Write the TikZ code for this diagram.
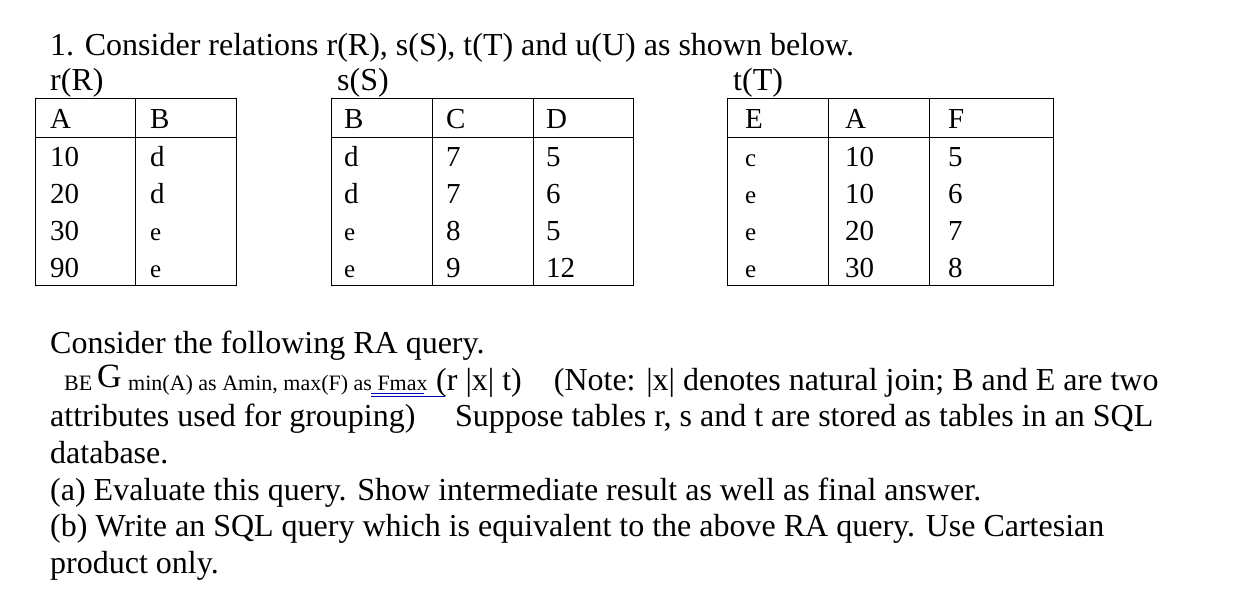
\documentclass[tikz,border=0pt]{standalone}
\usepackage{fontspec}
\setmainfont{Liberation Serif}
\begin{document}
\begin{tikzpicture}[x=1pt,y=-1pt,
  t/.style={anchor=base west,inner sep=0pt,font=\fontsize{32}{38}\selectfont},
  c/.style={anchor=base west,inner sep=0pt,font=\fontsize{29}{34}\selectfont},
  ce/.style={anchor=base west,inner sep=0pt,font=\fontsize{25}{30}\selectfont},
  sm/.style={anchor=base west,inner sep=0pt,font=\fontsize{22}{26}\selectfont},
  grid/.style={line width=0.8pt}]
\useasboundingbox (0,0) rectangle (1243,606);
\node[t] (l1) at (50,55) {1. Consider relations r(R), s(S), t(T) and u(U) as shown below.};
\node[t] (hr) at (50,90) {r(R)};
\node[t] (hs) at (337,90) {s(S)};
\node[t] (ht) at (733,90) {t(T)};
% tables
\foreach \xa/\xb/\xs in {35/236/{135}, 331/633/{432,533}, 727/1053/{828,929}}{
  \draw[grid] (\xa,98) rectangle (\xb,285);
  \draw[grid] (\xa,137) -- (\xb,137);
  \foreach \xx in \xs {\draw[grid] (\xx,98) -- (\xx,285);}
}
% r
\foreach \y/\a in {128/A,166/10,203/20,240/30,277/90}{\node[c] at (50,\y) {\a};}
\foreach \y/\b/\st in {128/B/c,166/d/c,203/d/c,240/e/ce,277/e/ce}{\node[\st] at (150,\y) {\b};}
% s
\foreach \y/\a/\st in {128/B/c,166/d/c,203/d/c,240/e/ce,277/e/ce}{\node[\st] at (344,\y) {\a};}
\foreach \y/\b/\cc in {128/C/D,166/7/5,203/7/6,240/8/5,277/9/12}{
  \node[c] at (446,\y) {\b}; \node[c] at (546,\y) {\cc};}
% t
\foreach \y/\a/\st in {128/E/c,166/c/ce,203/e/ce,240/e/ce,277/e/ce}{\node[\st] at (745,\y) {\a};}
\foreach \y/\b/\cc in {128/A/F,166/10/5,203/10/6,240/20/7,277/30/8}{
  \node[c] at (845,\y) {\b}; \node[c] at (948,\y) {\cc};}
\node[t] (q0) at (50,353) {Consider the following RA query.};
\node[sm] (be) at (64,390) {BE};
\node[t,font=\fontsize{34}{40}\selectfont] (g) at (97,387) {G};
\node[sm] (agg) at (128,390) {min(A) as Amin, max(F) as Fmax};
\draw[blue!70!black,line width=0.6pt] (371,393) -- (424,393);
\draw[blue!70!black,line width=0.6pt] (371,396) -- (445,396);
\node[t] (rxt) at (436,390) {(r |x| t)\quad (Note: |x| denotes natural join; B and E are two};
\node[t] (l3a) at (50,426) {attributes used for grouping)};
\node[t] (l3b) at (455,426) {Suppose tables r, s and t are stored as tables in an SQL};
\node[t] (l4) at (50,463) {database.};
\node[t] (l5) at (50,500) {(a) Evaluate this query. Show intermediate result as well as final answer.};
\node[t] (l6) at (50,536) {(b) Write an SQL query which is equivalent to the above RA query. Use Cartesian};
\node[t] (l7) at (50,573) {product only.};
\end{tikzpicture}
\end{document}
